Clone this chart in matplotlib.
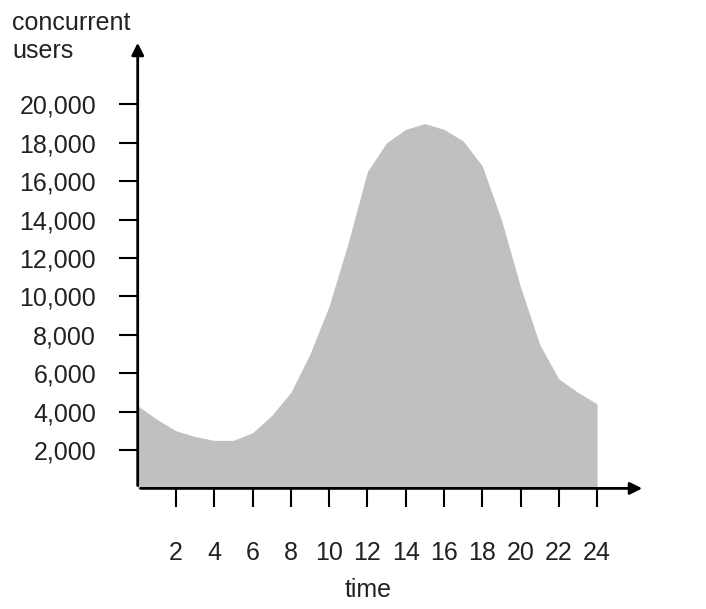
import matplotlib
matplotlib.use("Agg")
import matplotlib.pyplot as plt

hours = list(range(0, 25))
users = [4300, 3600, 3000, 2700, 2500, 2500, 2900, 3800, 5000, 7000, 9500, 12800, 16500, 18000, 18700, 19000,
         18700, 18100, 16800, 14000, 10500, 7500, 5700, 5000, 4400]
xticks = list(range(2, 25, 2))
yticks = list(range(2000, 20001, 2000))
ytick_labels = [f"{v:,}" for v in yticks]

plt.rcParams['font.family'] = ['Liberation Sans', 'DejaVu Sans']
fig = plt.figure(figsize=(7.06, 6.09), dpi=100)
ax = fig.add_axes([137.7/706, 120.6/609, (645-137.7)/706, (488.4-40)/609])
ax.fill_between(hours, users, 0, color='#c0c0c0', lw=0)
ax.set_xlim(0, (645-137.7)/19.14)
ax.set_ylim(0, (488.4-40)/19.2*1000)
for s in ax.spines.values():
    s.set_visible(False)
ax.annotate('', xy=(1, 0), xytext=(0, 0), xycoords='axes fraction',
            arrowprops=dict(arrowstyle='-|>', color='black', lw=2, mutation_scale=18))
ax.annotate('', xy=(0, 1), xytext=(0, 0), xycoords='axes fraction',
            arrowprops=dict(arrowstyle='-|>', color='black', lw=2, mutation_scale=18))
ax.set_xticks(xticks)
ax.set_yticks(yticks)
ax.set_yticklabels(ytick_labels)
ax.tick_params(direction='out', length=14, width=1.5, labelsize=18, labelcolor='#222222')
ax.tick_params(axis='x', pad=24)
ax.tick_params(axis='y', pad=16)
fig.text(368/706, 1-590/609, 'time', ha='center', va='center', fontsize=18, color='#222222')
fig.text(12/706, 1-37/609, 'concurrent\nusers', ha='left', va='center', fontsize=18,
         linespacing=1.25, color='#222222')
fig.savefig('out.png', dpi=100)
